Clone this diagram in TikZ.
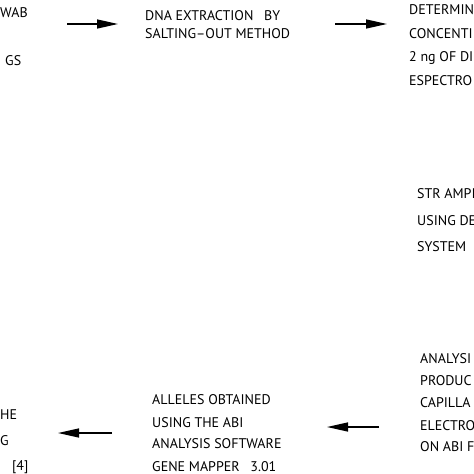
\documentclass[tikz,border=0pt]{standalone}
\usepackage{fontspec}
\setmainfont{PT Sans}
\usetikzlibrary{arrows.meta}
\tikzset{
  steptext/.style={anchor=base west, inner sep=0pt, font=\fontsize{14}{16}\selectfont},
  flow/.style={-{Triangle[length=21pt,width=9pt]}, line width=1.4pt}
}
\begin{document}
\begin{tikzpicture}[x=1pt,y=-1pt]
\useasboundingbox (0,0) rectangle (474,474);
\clip (0,0) rectangle (474,474);
% sample collection (cut off at the left)
\node[steptext] (swab1) at (0,17) {WAB};
\node[steptext] (swab2) at (5,65) {GS};
% extraction
\foreach \i/\t/\y in {1/DNA EXTRACTION\enspace\ BY/20, 2/SALTING--OUT METHOD/38} {
  \node[steptext] (ext\i) at (145,\y) {\t};
}
% quantification
\foreach \i/\t/\y in {1/DETERMIN/14, 2/CONCENTI/38, 3/2 ng OF DI/61.5, 4/ESPECTRO/85} {
  \node[steptext] (qnt\i) at (409,\y) {\t};
}
% amplification
\foreach \i/\t/\y in {1/STR AMPI/198, 2/USING DE/225, 3/SYSTEM/251} {
  \node[steptext] (amp\i) at (417,\y) {\t};
}
% electrophoresis
\foreach \i/\t/\y in {1/ANALYSI/363, 2/PRODUC/385, 3/CAPILLA/407, 4/ELECTRO/430, 5/ON ABI F/451} {
  \node[steptext] (elc\i) at (420,\y) {\t};
}
% allele calling
\foreach \i/\t/\y in {1/ALLELES OBTAINED/404, 2/USING THE ABI/427, 3/ANALYSIS SOFTWARE/448, 4/GENE MAPPER\enspace\ 3.01/471} {
  \node[steptext] (all\i) at (152,\y) {\t};
}
% comparison (cut off at the left)
\foreach \i/\t/\x/\y in {1/HE/0/419, 2/G/0/445, 3/[4]/12/470} {
  \node[steptext] (cmp\i) at (\x,\y) {\t};
}
% arrows
\coordinate (a1s) at (67,24);  \coordinate (a1e) at (118,24);
\coordinate (a2s) at (335,24); \coordinate (a2e) at (387,24);
\coordinate (a3s) at (379,427); \coordinate (a3e) at (327,427);
\coordinate (a4s) at (112,433); \coordinate (a4e) at (58,433);
\draw[flow] (a1s) -- (a1e);
\draw[flow] (a2s) -- (a2e);
\draw[flow] (a3s) -- (a3e);
\draw[flow] (a4s) -- (a4e);
\end{tikzpicture}
\end{document}
